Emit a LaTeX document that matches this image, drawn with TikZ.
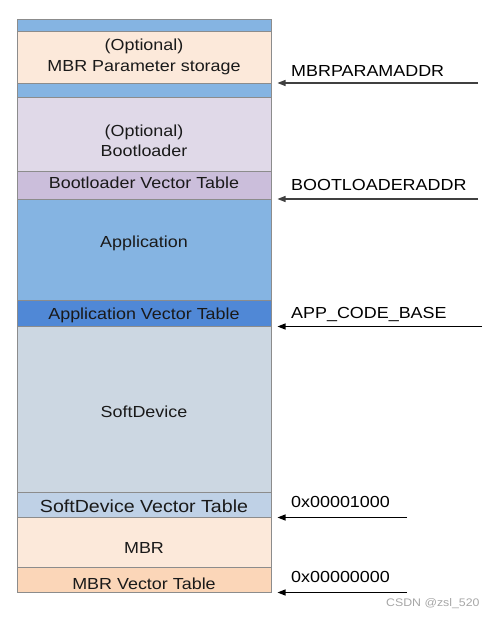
\documentclass[tikz,border=0pt]{standalone}
\usepackage{fontspec}
\setmainfont{Liberation Sans}[FakeStretch=1.12]
\usetikzlibrary{arrows.meta}
\definecolor{cblue}{HTML}{85B4E2}
\definecolor{cpeach}{HTML}{FCE9DA}
\definecolor{cboot}{HTML}{E0D9E8}
\definecolor{cbootvt}{HTML}{CBBEDB}
\definecolor{cappvt}{HTML}{5088D6}
\definecolor{csd}{HTML}{CCD7E2}
\definecolor{csdvt}{HTML}{BFD1E6}
\definecolor{cmbrvt}{HTML}{FBD6B8}
\definecolor{cborder}{HTML}{8C8C8C}
\definecolor{ctext}{HTML}{1A1A1A}
\tikzset{
  seg/.style={draw=cborder, line width=0.9pt, inner sep=0pt, outer sep=0pt, anchor=north west, minimum width=254pt},
  lbl/.style={anchor=base, inner sep=0pt, text=ctext, font=\fontsize{16}{19}\selectfont},
  addr/.style={anchor=base west, inner sep=0pt, text=black, font=\fontsize{16}{19}\selectfont},
  ptr/.style={line width=1.3pt, -{Triangle[length=8pt,width=6pt]}},
}
\begin{document}
\begin{tikzpicture}[x=1pt,y=-1pt]
\useasboundingbox (0,0) rectangle (495,618);
% segments
\node[seg, fill=cblue,   minimum height=12.5pt] (top)   at (17,19) {};
\node[seg, fill=cpeach,  minimum height=51.5pt] (mbrp)  at (17,31.5) {};
\node[seg, fill=cblue,   minimum height=14.5pt] (gap)   at (17,83) {};
\node[seg, fill=cboot,   minimum height=74pt]   (boot)  at (17,97.5) {};
\node[seg, fill=cbootvt, minimum height=27.5pt] (bootvt) at (17,171.5) {};
\node[seg, fill=cblue,   minimum height=101.5pt] (app)  at (17,199) {};
\node[seg, fill=cappvt,  minimum height=26pt]   (appvt) at (17,300.5) {};
\node[seg, fill=csd,     minimum height=165.5pt] (sd)   at (17,326.5) {};
\node[seg, fill=csdvt,   minimum height=25.5pt] (sdvt)  at (17,492) {};
\node[seg, fill=cpeach,  minimum height=49.5pt] (mbr)   at (17,517.5) {};
\node[seg, fill=cmbrvt,  minimum height=25.5pt] (mbrvt) at (17,567) {};
% labels
\node[lbl] (t1) at (144,50.5) {(Optional)};
\node[lbl] (t2) at (144,71) {MBR Parameter storage};
\node[lbl] (t3) at (144,136) {(Optional)};
\node[lbl] (t4) at (144,156.7) {Bootloader};
\node[lbl] (t5) at (144,188.7) {Bootloader Vector Table};
\node[lbl] (t6) at (144,247.7) {Application};
\node[lbl] (t7) at (144,319.3) {Application Vector Table};
\node[lbl] (t8) at (144,417.7) {SoftDevice};
\node[lbl, font=\fontsize{17.5}{20}\selectfont] (t9) at (144,512.7) {SoftDevice Vector Table};
\node[lbl] (t10) at (144,553.3) {MBR};
\node[lbl] (t11) at (144,589) {MBR Vector Table};
% address labels
\node[addr] (a1) at (291,76) {MBRPARAMADDR};
\node[addr] (a2) at (291,190.7) {BOOTLOADERADDR};
\node[addr] (a3) at (291,318.3) {APP\_CODE\_BASE};
\node[addr] (a4) at (291,507) {0x00001000};
\node[addr] (a5) at (291,582) {0x00000000};
% pointer start coordinates
\coordinate (s1) at (478,83);
\coordinate (s2) at (478,199);
\coordinate (s3) at (482,326.5);
\coordinate (s4) at (407,517.5);
\coordinate (s5) at (407,592.5);
\draw[ptr, draw=black!75] (s1) -- ([xshift=6.5pt]mbrp.south east);
\draw[ptr, draw=black!75] (s2) -- ([xshift=6.5pt]bootvt.south east);
\draw[ptr] (s3) -- ([xshift=6.5pt]appvt.south east);
\draw[ptr] (s4) -- ([xshift=6.5pt]sdvt.south east);
\draw[ptr] (s5) -- ([xshift=6.5pt]mbrvt.south east);
% watermark
\node[anchor=base west, inner sep=0pt, text=black!35, font=\fontsize{11}{13}\selectfont] (wm) at (386,606.7) {CSDN @zsl\_520};
\end{tikzpicture}
\end{document}
